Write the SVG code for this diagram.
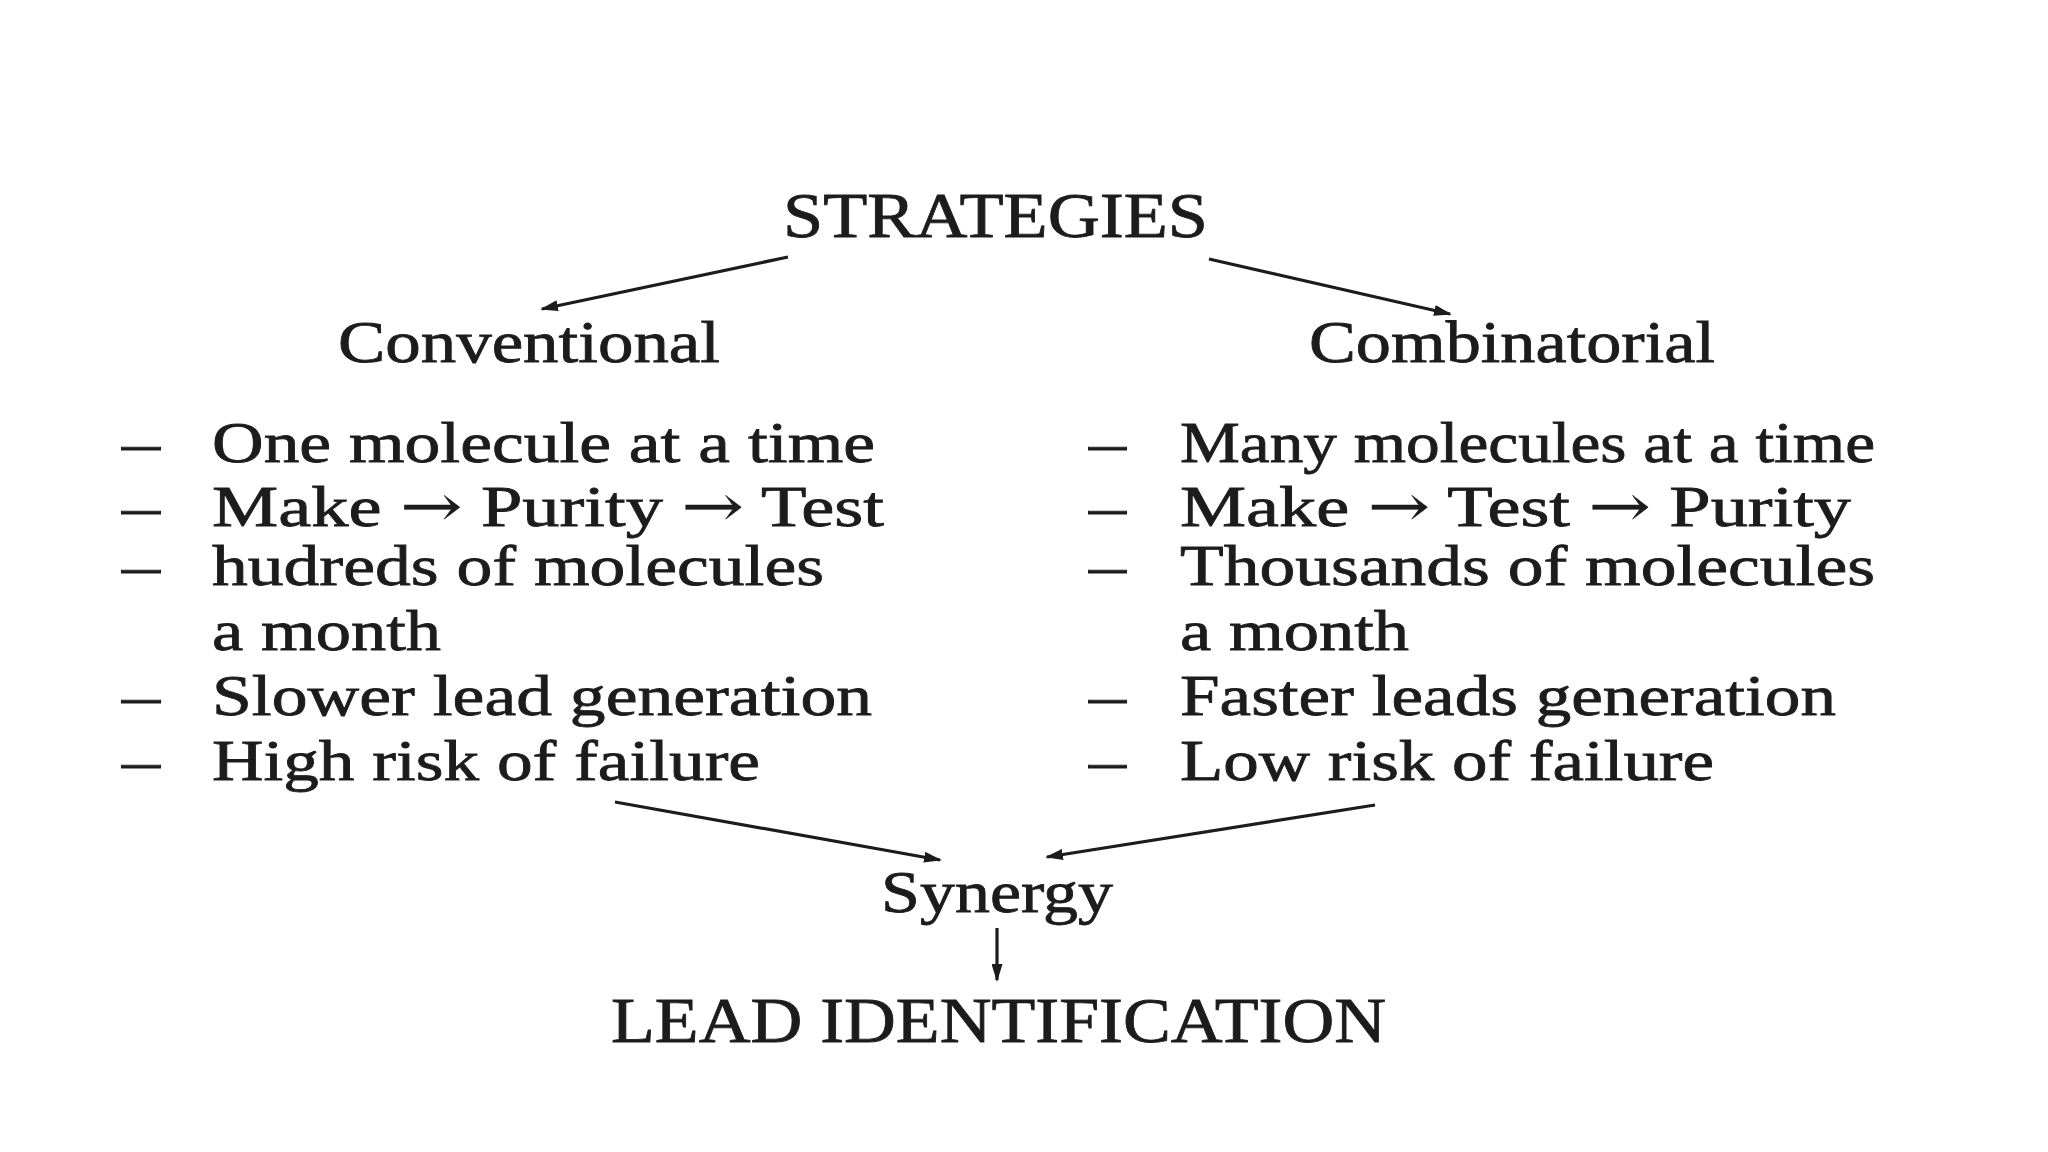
<svg xmlns="http://www.w3.org/2000/svg" width="2048" height="1152" viewBox="0 0 2048 1152">
  <style>
    text { font-family: "Liberation Serif", "Times New Roman", "DejaVu Serif", serif; fill: #1c1c1c; stroke: #1c1c1c; stroke-width: 0.8; }
    .title { font-size: 64px; }
    .head { font-size: 60px; }
    .item { font-size: 58px; }
    .arr { font-family: "DejaVu Serif", serif; stroke-width: 0.3; }
    .conn { stroke: #1c1c1c; stroke-width: 3.2; fill: none; }
  </style>
  <defs>
    <marker id="arrow" viewBox="0 0 18 11" refX="16" refY="5.5" markerWidth="18" markerHeight="11" markerUnits="userSpaceOnUse" orient="auto">
      <path d="M0,0 L18,5.5 L0,11 z" fill="#1c1c1c"/>
    </marker>
  </defs>
  <rect x="0" y="0" width="2048" height="1152" fill="#ffffff"/>

  <g id="strategies">
    <text class="title" x="783" y="237" textLength="425" lengthAdjust="spacingAndGlyphs">STRATEGIES</text>
  </g>

  <g id="conventional">
    <text class="head" x="338" y="362" textLength="382" lengthAdjust="spacingAndGlyphs">Conventional</text>
  </g>

  <g id="combinatorial">
    <text class="head" x="1309" y="362" textLength="406" lengthAdjust="spacingAndGlyphs">Combinatorial</text>
  </g>

  <g id="conventional-list">
    <text class="item" x="122" y="462" textLength="38" lengthAdjust="spacingAndGlyphs">–</text>
    <text class="item" x="212" y="462" textLength="663" lengthAdjust="spacingAndGlyphs">One molecule at a time</text>
    <text class="item" x="122" y="526" textLength="38" lengthAdjust="spacingAndGlyphs">–</text>
    <text class="item" x="212" y="526" textLength="672" lengthAdjust="spacingAndGlyphs">Make <tspan class="arr">→</tspan> Purity <tspan class="arr">→</tspan> Test</text>
    <text class="item" x="122" y="585" textLength="38" lengthAdjust="spacingAndGlyphs">–</text>
    <text class="item" x="212" y="585" textLength="612" lengthAdjust="spacingAndGlyphs">hudreds of molecules</text>
    <text class="item" x="212" y="650" textLength="229" lengthAdjust="spacingAndGlyphs">a month</text>
    <text class="item" x="122" y="715" textLength="38" lengthAdjust="spacingAndGlyphs">–</text>
    <text class="item" x="212" y="715" textLength="660" lengthAdjust="spacingAndGlyphs">Slower lead generation</text>
    <text class="item" x="122" y="780" textLength="38" lengthAdjust="spacingAndGlyphs">–</text>
    <text class="item" x="212" y="780" textLength="548" lengthAdjust="spacingAndGlyphs">High risk of failure</text>
  </g>

  <g id="combinatorial-list">
    <text class="item" x="1089" y="462" textLength="37" lengthAdjust="spacingAndGlyphs">–</text>
    <text class="item" x="1180" y="462" textLength="695" lengthAdjust="spacingAndGlyphs">Many molecules at a time</text>
    <text class="item" x="1089" y="526" textLength="37" lengthAdjust="spacingAndGlyphs">–</text>
    <text class="item" x="1180" y="526" textLength="671" lengthAdjust="spacingAndGlyphs">Make <tspan class="arr">→</tspan> Test <tspan class="arr">→</tspan> Purity</text>
    <text class="item" x="1089" y="585" textLength="37" lengthAdjust="spacingAndGlyphs">–</text>
    <text class="item" x="1180" y="585" textLength="695" lengthAdjust="spacingAndGlyphs">Thousands of molecules</text>
    <text class="item" x="1180" y="650" textLength="229" lengthAdjust="spacingAndGlyphs">a month</text>
    <text class="item" x="1089" y="715" textLength="37" lengthAdjust="spacingAndGlyphs">–</text>
    <text class="item" x="1180" y="715" textLength="656" lengthAdjust="spacingAndGlyphs">Faster leads generation</text>
    <text class="item" x="1089" y="780" textLength="37" lengthAdjust="spacingAndGlyphs">–</text>
    <text class="item" x="1180" y="780" textLength="534" lengthAdjust="spacingAndGlyphs">Low risk of failure</text>
  </g>

  <g id="synergy">
    <text class="head" x="881" y="912" textLength="232" lengthAdjust="spacingAndGlyphs">Synergy</text>
  </g>

  <g id="lead-identification">
    <text class="title" x="611" y="1042" textLength="775" lengthAdjust="spacingAndGlyphs">LEAD IDENTIFICATION</text>
  </g>

  <g id="connectors">
    <line class="conn" x1="788" y1="257" x2="542" y2="309" marker-end="url(#arrow)"/>
    <line class="conn" x1="1209" y1="259" x2="1450" y2="314" marker-end="url(#arrow)"/>
    <line class="conn" x1="615" y1="802" x2="940" y2="860" marker-end="url(#arrow)"/>
    <line class="conn" x1="1375" y1="805" x2="1047" y2="857" marker-end="url(#arrow)"/>
    <line class="conn" x1="997" y1="928" x2="997" y2="980" stroke-width="2.5" marker-end="url(#arrow)"/>
  </g>
</svg>
